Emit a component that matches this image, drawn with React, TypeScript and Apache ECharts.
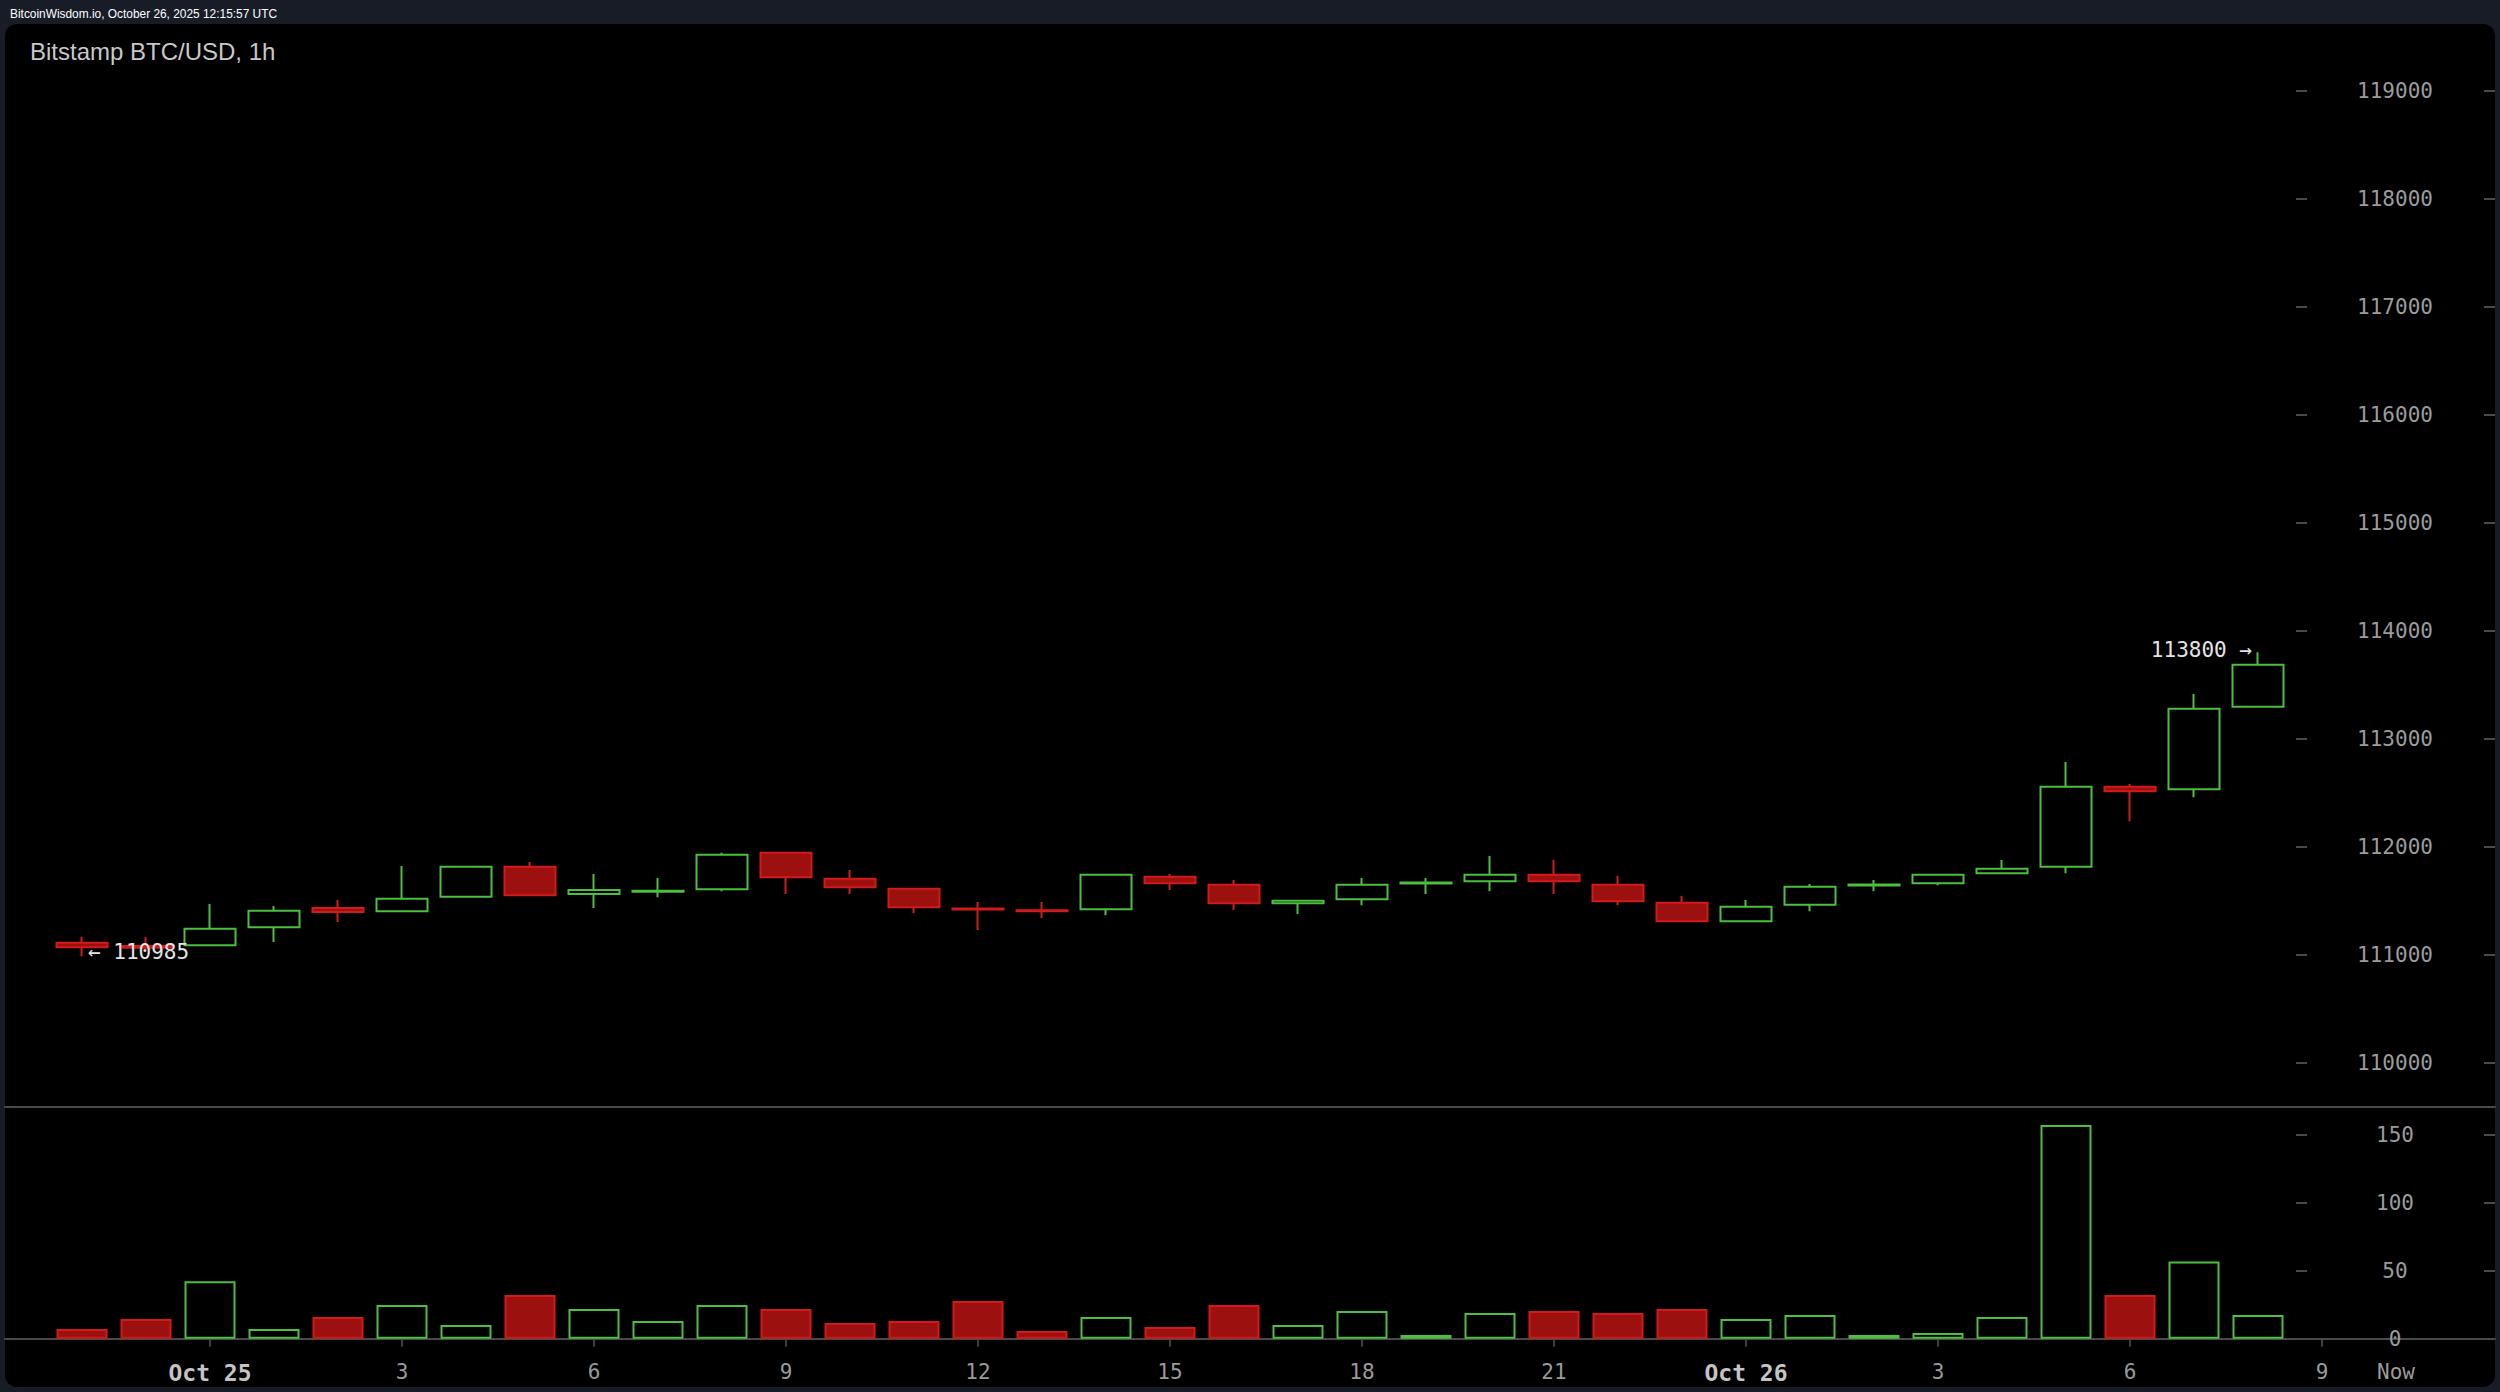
import React, { useEffect, useRef } from 'react';
import * as echarts from 'echarts';

// First candle: Oct 24, 22:00 UTC (hours counted from Oct 24, 00:00)
const startHour = 22;

const opens = [
  111111, 111080, 111087, 111254, 111432, 111402, 111537, 111815, 111562, 111583,
  111606, 111944, 111704, 111611, 111428, 111412, 111420, 111722, 111648, 111476,
  111513, 111660, 111680, 111741, 111648, 111481, 111309, 111463, 111640, 111661,
  111754, 111815, 112556, 112531, 113296,
];
const closes = [
  111069, 111065, 111241, 111407, 111395, 111519, 111815, 111550, 111599, 111592,
  111926, 111717, 111624, 111439, 111418, 111402, 111741, 111661, 111476, 111500,
  111648, 111668, 111741, 111680, 111494, 111309, 111444, 111630, 111650, 111741,
  111796, 112556, 112513, 113278, 113685,
];
const lows = [
  110985, 111030, 111080, 111118, 111303, 111398, 111533, 111545, 111432, 111531,
  111587, 111562, 111562, 111383, 111229, 111340, 111365, 111599, 111414, 111377,
  111457, 111562, 111587, 111562, 111457, 111305, 111305, 111402, 111587, 111643,
  111750, 111754, 112235, 112457, 113290,
];
const highs = [
  111167, 111165, 111469, 111451, 111506, 111821, 111820, 111858, 111747, 111710,
  111944, 111950, 111784, 111615, 111488, 111488, 111745, 111747, 111692, 111505,
  111711, 111711, 111914, 111877, 111729, 111544, 111507, 111655, 111692, 111745,
  111877, 112784, 112581, 113414, 113800,
];
const volumes = [
  7.1, 14.5, 42.2, 7.1, 16.0, 24.8, 10.0, 32.1, 21.8, 13.0,
  24.8, 21.8, 11.5, 13.0, 27.7, 5.7, 16.0, 8.6, 24.8, 10.0,
  20.4, 2.7, 18.9, 20.4, 18.9, 21.8, 14.5, 17.4, 2.7, 4.2,
  16.0, 157.1, 32.1, 56.8, 17.4,
];

const timeTicks = [24, 27, 30, 33, 36, 39, 42, 45, 48, 51, 54, 57];
const volumeTicks = [0, 50, 100, 150];
const priceMin = 110000;
const priceMax = 119000;
const priceStep = 1000;
const volumeMax = 170.6;
const lowMark = { index: 0, value: 110985 };
const highMark = { index: 34, value: 113800 };

const MONO = '"DejaVu Sans Mono", monospace';
const SANS = '"Liberation Sans", Arial, sans-serif';
const UP = '#4cbe40';
const DOWN_FILL = '#9c1010';
const DOWN_LINE = '#d11a1a';
const AXIS_GRAY = '#4a4a4a';
const LABEL_GRAY = '#9b9b9b';

function timeLabel(h: number): string {
  const hr = h % 24;
  if (hr === 0) return `{d|Oct ${24 + h / 24}}`;
  return String(hr);
}

export default function App() {
  const ref = useRef<HTMLDivElement>(null);

  useEffect(() => {
    if (!ref.current) return;
    const chart = echarts.init(ref.current, undefined, { renderer: 'svg' });

    const candleData = opens.map((o, i) => [startHour + i, o, closes[i], lows[i], highs[i]]);
    const volumeData = volumes.map((v, i) => ({
      value: [startHour + i, v],
      itemStyle:
        closes[i] >= opens[i]
          ? { color: 'rgba(0,0,0,0)', borderColor: UP }
          : { color: DOWN_FILL, borderColor: DOWN_LINE },
    }));

    const xMin = 20.796875;
    const xMax = 59.703125;

    const tickStyle = { color: AXIS_GRAY, width: 2 };
    const labelStyle = {
      color: LABEL_GRAY,
      fontFamily: MONO,
      fontSize: 21,
    };

    const option: any = {
      animation: false,
      backgroundColor: '#181c27',
      title: [
        {
          text: 'BitcoinWisdom.io, October 26, 2025 12:15:57 UTC',
          left: 10,
          top: 7.8,
          padding: 0,
          textStyle: { color: '#ffffff', fontSize: 11.9, fontWeight: 'normal', fontFamily: SANS },
        },
        {
          text: 'Bitstamp BTC/USD, 1h',
          left: 30,
          top: 39.3,
          padding: 0,
          textStyle: { color: '#c8c8c8', fontSize: 24, fontWeight: 'normal', fontFamily: SANS },
        },
      ],
      graphic: [
        {
          type: 'rect',
          z: -10,
          silent: true,
          shape: { x: 5, y: 24, width: 2490, height: 1363, r: 12 },
          style: { fill: '#000000' },
        },
        {
          type: 'text',
          x: 2396,
          y: 1372,
          silent: true,
          style: {
            text: 'Now',
            fill: LABEL_GRAY,
            fontFamily: MONO,
            fontSize: 21,
            textAlign: 'center',
            textVerticalAlign: 'middle',
          },
        },
      ],
      grid: [
        { left: 5, right: 5, top: 90.7, height: 972 },
        { left: 5, right: 5, top: 1106.7, height: 232 },
      ],
      xAxis: [
        {
          type: 'value',
          gridIndex: 0,
          min: xMin,
          max: xMax,
          position: 'bottom',
          offset: 44,
          axisLine: { show: true, lineStyle: tickStyle },
          axisTick: { show: false },
          axisLabel: { show: false },
          splitLine: { show: false },
        },
        {
          type: 'value',
          gridIndex: 1,
          min: xMin,
          max: xMax,
          position: 'bottom',
          offset: 16.3,
          axisLine: { show: true, lineStyle: tickStyle },
          axisTick: {
            show: true,
            length: 8,
            customValues: timeTicks,
            lineStyle: { color: '#555555', width: 1.5 },
          },
          axisLabel: {
            show: true,
            customValues: timeTicks,
            margin: 6,
            ...labelStyle,
            formatter: (v: number) => timeLabel(v),
            rich: {
              d: { fontFamily: MONO, fontSize: 23, fontWeight: 'bold', color: '#c4c4c4' },
            },
          },
          splitLine: { show: false },
        },
      ],
      yAxis: [
        {
          type: 'value',
          gridIndex: 0,
          min: priceMin,
          max: priceMax,
          interval: priceStep,
          position: 'right',
          offset: -199,
          axisLine: { show: false },
          splitLine: { show: false },
          axisTick: { show: true, inside: false, length: 11, lineStyle: tickStyle },
          axisLabel: {
            show: true,
            margin: 99,
            align: 'center',
            ...labelStyle,
            formatter: (v: number) => String(v),
          },
        },
        {
          type: 'value',
          gridIndex: 0,
          min: priceMin,
          max: priceMax,
          interval: priceStep,
          position: 'right',
          offset: 0,
          axisLine: { show: false },
          splitLine: { show: false },
          axisTick: { show: true, inside: true, length: 11, lineStyle: tickStyle },
          axisLabel: { show: false },
        },
        {
          type: 'value',
          gridIndex: 1,
          min: 0,
          max: volumeMax,
          position: 'right',
          offset: -199,
          axisLine: { show: false },
          splitLine: { show: false },
          axisTick: { show: true, inside: false, length: 11, customValues: volumeTicks, lineStyle: tickStyle },
          axisLabel: {
            show: true,
            margin: 99,
            align: 'center',
            customValues: volumeTicks,
            ...labelStyle,
            formatter: (v: number) => String(v),
          },
        },
        {
          type: 'value',
          gridIndex: 1,
          min: 0,
          max: volumeMax,
          position: 'right',
          offset: 0,
          axisLine: { show: false },
          splitLine: { show: false },
          axisTick: { show: true, inside: true, length: 11, customValues: volumeTicks, lineStyle: tickStyle },
          axisLabel: { show: false },
        },
      ],
      series: [
        {
          type: 'candlestick',
          xAxisIndex: 0,
          yAxisIndex: 0,
          barWidth: 51,
          data: candleData,
          itemStyle: {
            color: 'rgba(0,0,0,0)',
            color0: DOWN_FILL,
            borderColor: UP,
            borderColor0: DOWN_LINE,
            borderWidth: 2,
          },
          emphasis: { disabled: true },
          markPoint: {
            symbol: 'circle',
            symbolSize: 0,
            silent: true,
            label: { show: true, color: '#e4e4e4', fontFamily: MONO, fontSize: 21 },
            data: [
              {
                coord: [startHour + highMark.index, highMark.value],
                value: highMark.value,
                label: { position: 'left', distance: 6, offset: [0, -2], formatter: `${highMark.value} →` },
              },
              {
                coord: [startHour + lowMark.index, lowMark.value],
                value: lowMark.value,
                label: { position: 'right', distance: 6, offset: [0, -4], formatter: `← ${lowMark.value}` },
              },
            ],
          },
        },
        {
          type: 'bar',
          xAxisIndex: 1,
          yAxisIndex: 2,
          barWidth: 51,
          data: volumeData,
          itemStyle: { borderWidth: 2 },
          emphasis: { disabled: true },
        },
      ],
    };

    chart.setOption(option);
    return () => {
      chart.dispose();
    };
  }, []);

  return (
    <div
      ref={ref}
      style={{ position: 'fixed', left: 0, top: 0, width: 2500, height: 1392 }}
    />
  );
}
